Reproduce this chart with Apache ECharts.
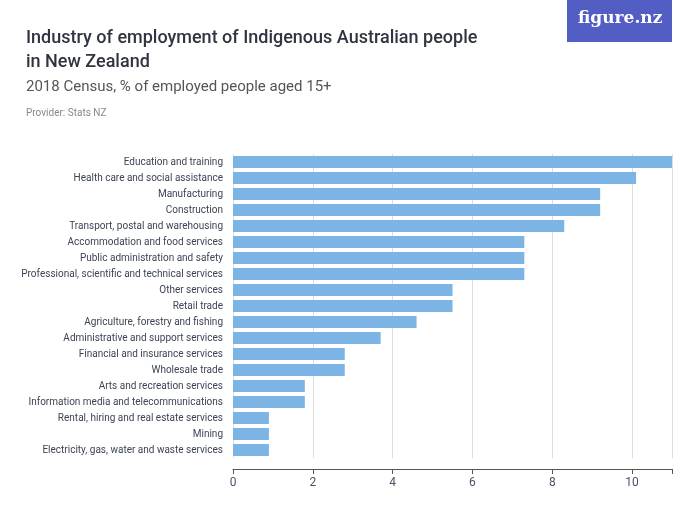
<!DOCTYPE html>
<html><head><meta charset="utf-8">
<script src="https://cdn.jsdelivr.net/npm/echarts@6/dist/echarts.min.js"></script>
<style>body{margin:0}#c{width:700px;height:525px}</style></head>
<body><div id="c"></div>
<script>
const categories = ["Education and training","Health care and social assistance","Manufacturing","Construction","Transport, postal and warehousing","Accommodation and food services","Public administration and safety","Professional, scientific and technical services","Other services","Retail trade","Agriculture, forestry and fishing","Administrative and support services","Financial and insurance services","Wholesale trade","Arts and recreation services","Information media and telecommunications","Rental, hiring and real estate services","Mining","Electricity, gas, water and waste services"];
const values = [11.0,10.1,9.2,9.2,8.3,7.3,7.3,7.3,5.5,5.5,4.6,3.7,2.8,2.8,1.8,1.8,0.9,0.9,0.9];
const xTicks = [0,2,4,6,8,10];
const chart = echarts.init(document.getElementById('c'));
chart.setOption({
  animation:false,
  graphic:[
    {type:'rect',shape:{x:567,y:0,width:105,height:42},style:{fill:'#525ec3'}},
    {type:'text',left:578,top:10,style:{text:'figure.nz',fill:'#fff',font:'bold 17px "DejaVu Serif"'}},
    {type:'text',left:26,top:26,style:{text:'Industry of employment of Indigenous Australian people\nin New Zealand',fill:'#2f3440',font:'500 18px Roboto',lineHeight:24}},
    {type:'text',left:26,top:80,style:{text:'2018 Census, % of employed people aged 15+',fill:'#555',font:'15px Roboto'}},
    {type:'text',left:26,top:108,style:{text:'Provider: Stats NZ',fill:'#888',font:'10px Roboto'}}
  ],
  grid:{left:233,right:28,top:154,bottom:67,containLabel:false,outerBoundsMode:'none'},
  xAxis:{type:'value',min:0,max:11,interval:2,offset:11,
    axisLabel:{color:'#4a5468',fontFamily:'Roboto',fontSize:12,formatter:v=>xTicks.includes(v)?String(v):''},
    axisTick:{show:true,length:5,lineStyle:{color:'#555'}},
    splitLine:{lineStyle:{color:'#ddd'}},axisLine:{show:true,lineStyle:{color:'#555'}}},
  yAxis:{type:'category',inverse:true,data:categories,
    axisLine:{show:false},axisTick:{show:false},
    axisLabel:{color:'#3c4454',fontFamily:'Roboto',fontSize:10,margin:10}},
  series:[{type:'bar',data:values,barWidth:12,itemStyle:{color:'#7db4e6'}}]
});
</script></body></html>
